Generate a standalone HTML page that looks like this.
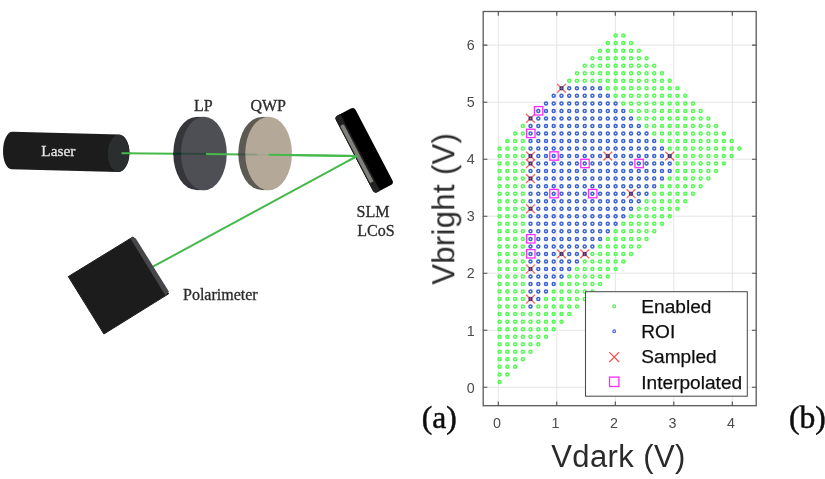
<!DOCTYPE html><html><head><meta charset="utf-8"><title>Figure</title>
<style>html,body{margin:0;padding:0;background:#fff}body{width:825px;height:479px;overflow:hidden;position:relative}svg{position:absolute;left:0;top:0;display:block}text{font-family:"Liberation Sans",sans-serif}.s text{font-family:"Liberation Serif",serif}</style></head><body>
<svg width="825" height="479" viewBox="0 0 825 479">
<defs><filter id="b" x="-5%" y="-5%" width="110%" height="110%"><feGaussianBlur stdDeviation="0.55"/></filter><filter id="b2" x="-5%" y="-5%" width="110%" height="110%"><feGaussianBlur stdDeviation="0.4"/></filter></defs>
<rect width="825" height="479" fill="#fff"/>
<g filter="url(#b)">
<line x1="121.5" y1="153.2" x2="206" y2="153.9" stroke="#46b84c" stroke-width="2.05"/>
<ellipse cx="196.3" cy="153.5" rx="23" ry="36.6" fill="#34363a"/>
<rect x="196.3" y="116.9" width="7.6" height="73.2" fill="#34363a"/>
<ellipse cx="203.9" cy="153.5" rx="22.9" ry="36.7" fill="#4d4f54"/>
<line x1="173" y1="153.7" x2="181.5" y2="153.8" stroke="#0f3326" stroke-width="2"/>
<line x1="181.5" y1="153.8" x2="206" y2="154" stroke="#33463e" stroke-width="1.9"/>
<line x1="206" y1="153.9" x2="357" y2="156.1" stroke="#46b84c" stroke-width="2.05"/>
<ellipse cx="261.7" cy="153.5" rx="23.4" ry="36.6" fill="#5c5a52"/>
<rect x="261.7" y="116.9" width="7" height="73.2" fill="#5c5a52"/>
<ellipse cx="268.6" cy="153.5" rx="23.4" ry="36.7" fill="#b4a898"/>
<line x1="238.3" y1="154.4" x2="245.5" y2="154.5" stroke="#474d42" stroke-width="2"/>
<line x1="245.5" y1="154.5" x2="257" y2="154.65" stroke="#8c9880" stroke-width="1.8"/>
<line x1="257" y1="154.65" x2="268.6" y2="154.8" stroke="#a4a592" stroke-width="1.6"/>
<line x1="268.6" y1="154.8" x2="357" y2="156.1" stroke="#46b84c" stroke-width="2.05"/>
<line x1="357" y1="156.1" x2="152.5" y2="266.8" stroke="#46b84c" stroke-width="2.05"/>
<g transform="rotate(1.5 66 152)">
<path d="M12,133.2 L118.5,133.2 A11,18.7 0 0 1 118.5,170.6 L12,170.6 A9,18.7 0 0 1 12,133.2 Z" fill="#1a1b1d"/>
<ellipse cx="118.5" cy="151.9" rx="10.8" ry="18.5" fill="#292d2f"/>
</g>
<line x1="121.5" y1="153.2" x2="131" y2="153.3" stroke="#46b84c" stroke-width="2.05"/>
<g transform="translate(364.2 150.3) rotate(-27.6)">
<rect x="-11.1" y="-43.2" width="22.2" height="86.4" rx="3.6" fill="#050505"/>
<path d="M-7.5,-43.2 h3 v86.4 h-3 a3.6,3.6 0 0 1 -3.6,-3.6 v-79.2 a3.6,3.6 0 0 1 3.6,-3.6z" fill="#202021"/>
<rect x="-10" y="-32.7" width="3.9" height="64.6" rx="0.8" fill="#80807a"/>
</g>
<line x1="349" y1="156" x2="357" y2="156.1" stroke="#46b84c" stroke-width="2.05"/>
<line x1="349" y1="160.4" x2="357" y2="156.1" stroke="#46b84c" stroke-width="2.05"/>
<polygon points="68.3,276.6 133,236.9 168.6,293.8 103.9,334" fill="#1b1b1c" stroke="#1b1b1c" stroke-width="1" stroke-linejoin="round"/>
<polygon points="133,236.9 135.8,238.6 168.9,291.6 165.6,295.8 130.4,238.6" fill="#45464a"/>
</g>
<g class="s" fill="#2b2b2b" stroke="#2b2b2b" stroke-width="0.3" font-size="16" filter="url(#b)">
<text x="41.3" y="156.4" fill="#e4e4e4" stroke="#e4e4e4" font-size="15.3">Laser</text>
<text x="194" y="111.3">LP</text>
<text x="250.4" y="111.3">QWP</text>
<text x="356.6" y="217.1">SLM</text>
<text x="357.2" y="236.2">LCoS</text>
<text x="183" y="299.8">Polarimeter</text>
</g>
<g filter="url(#b2)">
<line x1="498.3" y1="11.5" x2="498.3" y2="405.7" stroke="#e4e4e4" stroke-width="1"/>
<line x1="556.8" y1="11.5" x2="556.8" y2="405.7" stroke="#e4e4e4" stroke-width="1"/>
<line x1="615.3" y1="11.5" x2="615.3" y2="405.7" stroke="#e4e4e4" stroke-width="1"/>
<line x1="673.8" y1="11.5" x2="673.8" y2="405.7" stroke="#e4e4e4" stroke-width="1"/>
<line x1="732.3" y1="11.5" x2="732.3" y2="405.7" stroke="#e4e4e4" stroke-width="1"/>
<line x1="483.2" y1="387.3" x2="756.2" y2="387.3" stroke="#e4e4e4" stroke-width="1"/>
<line x1="483.2" y1="330.3" x2="756.2" y2="330.3" stroke="#e4e4e4" stroke-width="1"/>
<line x1="483.2" y1="273.2" x2="756.2" y2="273.2" stroke="#e4e4e4" stroke-width="1"/>
<line x1="483.2" y1="216.2" x2="756.2" y2="216.2" stroke="#e4e4e4" stroke-width="1"/>
<line x1="483.2" y1="159.2" x2="756.2" y2="159.2" stroke="#e4e4e4" stroke-width="1"/>
<line x1="483.2" y1="102.2" x2="756.2" y2="102.2" stroke="#e4e4e4" stroke-width="1"/>
<line x1="483.2" y1="45.1" x2="756.2" y2="45.1" stroke="#e4e4e4" stroke-width="1"/>
<g fill="none" stroke="#52fb52" stroke-width="1.5"><circle cx="499.6" cy="381.9" r="1.52"/><circle cx="499.6" cy="374.4" r="1.52"/><circle cx="507.3" cy="374.4" r="1.52"/><circle cx="499.6" cy="366.8" r="1.52"/><circle cx="507.3" cy="366.8" r="1.52"/><circle cx="515.1" cy="366.8" r="1.52"/><circle cx="499.6" cy="359.3" r="1.52"/><circle cx="507.3" cy="359.3" r="1.52"/><circle cx="515.1" cy="359.3" r="1.52"/><circle cx="522.8" cy="359.3" r="1.52"/><circle cx="499.6" cy="351.8" r="1.52"/><circle cx="507.3" cy="351.8" r="1.52"/><circle cx="515.1" cy="351.8" r="1.52"/><circle cx="522.8" cy="351.8" r="1.52"/><circle cx="530.5" cy="351.8" r="1.52"/><circle cx="499.6" cy="344.3" r="1.52"/><circle cx="507.3" cy="344.3" r="1.52"/><circle cx="515.1" cy="344.3" r="1.52"/><circle cx="522.8" cy="344.3" r="1.52"/><circle cx="530.5" cy="344.3" r="1.52"/><circle cx="538.3" cy="344.3" r="1.52"/><circle cx="499.6" cy="336.7" r="1.52"/><circle cx="507.3" cy="336.7" r="1.52"/><circle cx="515.1" cy="336.7" r="1.52"/><circle cx="522.8" cy="336.7" r="1.52"/><circle cx="530.5" cy="336.7" r="1.52"/><circle cx="538.3" cy="336.7" r="1.52"/><circle cx="546.0" cy="336.7" r="1.52"/><circle cx="499.6" cy="329.2" r="1.52"/><circle cx="507.3" cy="329.2" r="1.52"/><circle cx="515.1" cy="329.2" r="1.52"/><circle cx="522.8" cy="329.2" r="1.52"/><circle cx="530.5" cy="329.2" r="1.52"/><circle cx="538.3" cy="329.2" r="1.52"/><circle cx="546.0" cy="329.2" r="1.52"/><circle cx="553.7" cy="329.2" r="1.52"/><circle cx="499.6" cy="321.7" r="1.52"/><circle cx="507.3" cy="321.7" r="1.52"/><circle cx="515.1" cy="321.7" r="1.52"/><circle cx="522.8" cy="321.7" r="1.52"/><circle cx="530.5" cy="321.7" r="1.52"/><circle cx="538.3" cy="321.7" r="1.52"/><circle cx="546.0" cy="321.7" r="1.52"/><circle cx="553.7" cy="321.7" r="1.52"/><circle cx="561.5" cy="321.7" r="1.52"/><circle cx="499.6" cy="314.1" r="1.52"/><circle cx="507.3" cy="314.1" r="1.52"/><circle cx="515.1" cy="314.1" r="1.52"/><circle cx="522.8" cy="314.1" r="1.52"/><circle cx="530.5" cy="314.1" r="1.52"/><circle cx="538.3" cy="314.1" r="1.52"/><circle cx="546.0" cy="314.1" r="1.52"/><circle cx="553.7" cy="314.1" r="1.52"/><circle cx="561.5" cy="314.1" r="1.52"/><circle cx="569.2" cy="314.1" r="1.52"/><circle cx="499.6" cy="306.6" r="1.52"/><circle cx="507.3" cy="306.6" r="1.52"/><circle cx="515.1" cy="306.6" r="1.52"/><circle cx="522.8" cy="306.6" r="1.52"/><circle cx="538.3" cy="306.6" r="1.52"/><circle cx="546.0" cy="306.6" r="1.52"/><circle cx="553.7" cy="306.6" r="1.52"/><circle cx="561.5" cy="306.6" r="1.52"/><circle cx="569.2" cy="306.6" r="1.52"/><circle cx="576.9" cy="306.6" r="1.52"/><circle cx="499.6" cy="299.1" r="1.52"/><circle cx="507.3" cy="299.1" r="1.52"/><circle cx="515.1" cy="299.1" r="1.52"/><circle cx="522.8" cy="299.1" r="1.52"/><circle cx="546.0" cy="299.1" r="1.52"/><circle cx="553.7" cy="299.1" r="1.52"/><circle cx="561.5" cy="299.1" r="1.52"/><circle cx="569.2" cy="299.1" r="1.52"/><circle cx="576.9" cy="299.1" r="1.52"/><circle cx="584.7" cy="299.1" r="1.52"/><circle cx="499.6" cy="291.6" r="1.52"/><circle cx="507.3" cy="291.6" r="1.52"/><circle cx="515.1" cy="291.6" r="1.52"/><circle cx="522.8" cy="291.6" r="1.52"/><circle cx="553.7" cy="291.6" r="1.52"/><circle cx="561.5" cy="291.6" r="1.52"/><circle cx="569.2" cy="291.6" r="1.52"/><circle cx="576.9" cy="291.6" r="1.52"/><circle cx="584.7" cy="291.6" r="1.52"/><circle cx="592.4" cy="291.6" r="1.52"/><circle cx="499.6" cy="284.0" r="1.52"/><circle cx="507.3" cy="284.0" r="1.52"/><circle cx="515.1" cy="284.0" r="1.52"/><circle cx="522.8" cy="284.0" r="1.52"/><circle cx="561.5" cy="284.0" r="1.52"/><circle cx="569.2" cy="284.0" r="1.52"/><circle cx="576.9" cy="284.0" r="1.52"/><circle cx="584.7" cy="284.0" r="1.52"/><circle cx="592.4" cy="284.0" r="1.52"/><circle cx="600.1" cy="284.0" r="1.52"/><circle cx="499.6" cy="276.5" r="1.52"/><circle cx="507.3" cy="276.5" r="1.52"/><circle cx="515.1" cy="276.5" r="1.52"/><circle cx="522.8" cy="276.5" r="1.52"/><circle cx="569.2" cy="276.5" r="1.52"/><circle cx="576.9" cy="276.5" r="1.52"/><circle cx="584.7" cy="276.5" r="1.52"/><circle cx="592.4" cy="276.5" r="1.52"/><circle cx="600.1" cy="276.5" r="1.52"/><circle cx="607.8" cy="276.5" r="1.52"/><circle cx="499.6" cy="269.0" r="1.52"/><circle cx="507.3" cy="269.0" r="1.52"/><circle cx="515.1" cy="269.0" r="1.52"/><circle cx="522.8" cy="269.0" r="1.52"/><circle cx="576.9" cy="269.0" r="1.52"/><circle cx="584.7" cy="269.0" r="1.52"/><circle cx="592.4" cy="269.0" r="1.52"/><circle cx="600.1" cy="269.0" r="1.52"/><circle cx="607.8" cy="269.0" r="1.52"/><circle cx="615.6" cy="269.0" r="1.52"/><circle cx="499.6" cy="261.5" r="1.52"/><circle cx="507.3" cy="261.5" r="1.52"/><circle cx="515.1" cy="261.5" r="1.52"/><circle cx="522.8" cy="261.5" r="1.52"/><circle cx="584.7" cy="261.5" r="1.52"/><circle cx="592.4" cy="261.5" r="1.52"/><circle cx="600.1" cy="261.5" r="1.52"/><circle cx="607.8" cy="261.5" r="1.52"/><circle cx="615.6" cy="261.5" r="1.52"/><circle cx="623.3" cy="261.5" r="1.52"/><circle cx="499.6" cy="253.9" r="1.52"/><circle cx="507.3" cy="253.9" r="1.52"/><circle cx="515.1" cy="253.9" r="1.52"/><circle cx="522.8" cy="253.9" r="1.52"/><circle cx="592.4" cy="253.9" r="1.52"/><circle cx="600.1" cy="253.9" r="1.52"/><circle cx="607.8" cy="253.9" r="1.52"/><circle cx="615.6" cy="253.9" r="1.52"/><circle cx="623.3" cy="253.9" r="1.52"/><circle cx="631.0" cy="253.9" r="1.52"/><circle cx="499.6" cy="246.4" r="1.52"/><circle cx="507.3" cy="246.4" r="1.52"/><circle cx="515.1" cy="246.4" r="1.52"/><circle cx="522.8" cy="246.4" r="1.52"/><circle cx="600.1" cy="246.4" r="1.52"/><circle cx="607.8" cy="246.4" r="1.52"/><circle cx="615.6" cy="246.4" r="1.52"/><circle cx="623.3" cy="246.4" r="1.52"/><circle cx="631.0" cy="246.4" r="1.52"/><circle cx="638.8" cy="246.4" r="1.52"/><circle cx="499.6" cy="238.9" r="1.52"/><circle cx="507.3" cy="238.9" r="1.52"/><circle cx="515.1" cy="238.9" r="1.52"/><circle cx="522.8" cy="238.9" r="1.52"/><circle cx="607.8" cy="238.9" r="1.52"/><circle cx="615.6" cy="238.9" r="1.52"/><circle cx="623.3" cy="238.9" r="1.52"/><circle cx="631.0" cy="238.9" r="1.52"/><circle cx="638.8" cy="238.9" r="1.52"/><circle cx="646.5" cy="238.9" r="1.52"/><circle cx="499.6" cy="231.3" r="1.52"/><circle cx="507.3" cy="231.3" r="1.52"/><circle cx="515.1" cy="231.3" r="1.52"/><circle cx="522.8" cy="231.3" r="1.52"/><circle cx="615.6" cy="231.3" r="1.52"/><circle cx="623.3" cy="231.3" r="1.52"/><circle cx="631.0" cy="231.3" r="1.52"/><circle cx="638.8" cy="231.3" r="1.52"/><circle cx="646.5" cy="231.3" r="1.52"/><circle cx="654.2" cy="231.3" r="1.52"/><circle cx="499.6" cy="223.8" r="1.52"/><circle cx="507.3" cy="223.8" r="1.52"/><circle cx="515.1" cy="223.8" r="1.52"/><circle cx="522.8" cy="223.8" r="1.52"/><circle cx="623.3" cy="223.8" r="1.52"/><circle cx="631.0" cy="223.8" r="1.52"/><circle cx="638.8" cy="223.8" r="1.52"/><circle cx="646.5" cy="223.8" r="1.52"/><circle cx="654.2" cy="223.8" r="1.52"/><circle cx="662.0" cy="223.8" r="1.52"/><circle cx="499.6" cy="216.3" r="1.52"/><circle cx="507.3" cy="216.3" r="1.52"/><circle cx="515.1" cy="216.3" r="1.52"/><circle cx="522.8" cy="216.3" r="1.52"/><circle cx="631.0" cy="216.3" r="1.52"/><circle cx="638.8" cy="216.3" r="1.52"/><circle cx="646.5" cy="216.3" r="1.52"/><circle cx="654.2" cy="216.3" r="1.52"/><circle cx="662.0" cy="216.3" r="1.52"/><circle cx="669.7" cy="216.3" r="1.52"/><circle cx="499.6" cy="208.8" r="1.52"/><circle cx="507.3" cy="208.8" r="1.52"/><circle cx="515.1" cy="208.8" r="1.52"/><circle cx="522.8" cy="208.8" r="1.52"/><circle cx="638.8" cy="208.8" r="1.52"/><circle cx="646.5" cy="208.8" r="1.52"/><circle cx="654.2" cy="208.8" r="1.52"/><circle cx="662.0" cy="208.8" r="1.52"/><circle cx="669.7" cy="208.8" r="1.52"/><circle cx="677.4" cy="208.8" r="1.52"/><circle cx="499.6" cy="201.2" r="1.52"/><circle cx="507.3" cy="201.2" r="1.52"/><circle cx="515.1" cy="201.2" r="1.52"/><circle cx="522.8" cy="201.2" r="1.52"/><circle cx="646.5" cy="201.2" r="1.52"/><circle cx="654.2" cy="201.2" r="1.52"/><circle cx="662.0" cy="201.2" r="1.52"/><circle cx="669.7" cy="201.2" r="1.52"/><circle cx="677.4" cy="201.2" r="1.52"/><circle cx="685.2" cy="201.2" r="1.52"/><circle cx="499.6" cy="193.7" r="1.52"/><circle cx="507.3" cy="193.7" r="1.52"/><circle cx="515.1" cy="193.7" r="1.52"/><circle cx="522.8" cy="193.7" r="1.52"/><circle cx="654.2" cy="193.7" r="1.52"/><circle cx="662.0" cy="193.7" r="1.52"/><circle cx="669.7" cy="193.7" r="1.52"/><circle cx="677.4" cy="193.7" r="1.52"/><circle cx="685.2" cy="193.7" r="1.52"/><circle cx="692.9" cy="193.7" r="1.52"/><circle cx="499.6" cy="186.2" r="1.52"/><circle cx="507.3" cy="186.2" r="1.52"/><circle cx="515.1" cy="186.2" r="1.52"/><circle cx="522.8" cy="186.2" r="1.52"/><circle cx="662.0" cy="186.2" r="1.52"/><circle cx="669.7" cy="186.2" r="1.52"/><circle cx="677.4" cy="186.2" r="1.52"/><circle cx="685.2" cy="186.2" r="1.52"/><circle cx="692.9" cy="186.2" r="1.52"/><circle cx="700.6" cy="186.2" r="1.52"/><circle cx="499.6" cy="178.6" r="1.52"/><circle cx="507.3" cy="178.6" r="1.52"/><circle cx="515.1" cy="178.6" r="1.52"/><circle cx="522.8" cy="178.6" r="1.52"/><circle cx="669.7" cy="178.6" r="1.52"/><circle cx="677.4" cy="178.6" r="1.52"/><circle cx="685.2" cy="178.6" r="1.52"/><circle cx="692.9" cy="178.6" r="1.52"/><circle cx="700.6" cy="178.6" r="1.52"/><circle cx="708.4" cy="178.6" r="1.52"/><circle cx="499.6" cy="171.1" r="1.52"/><circle cx="507.3" cy="171.1" r="1.52"/><circle cx="515.1" cy="171.1" r="1.52"/><circle cx="522.8" cy="171.1" r="1.52"/><circle cx="677.4" cy="171.1" r="1.52"/><circle cx="685.2" cy="171.1" r="1.52"/><circle cx="692.9" cy="171.1" r="1.52"/><circle cx="700.6" cy="171.1" r="1.52"/><circle cx="708.4" cy="171.1" r="1.52"/><circle cx="716.1" cy="171.1" r="1.52"/><circle cx="499.6" cy="163.6" r="1.52"/><circle cx="507.3" cy="163.6" r="1.52"/><circle cx="515.1" cy="163.6" r="1.52"/><circle cx="522.8" cy="163.6" r="1.52"/><circle cx="677.4" cy="163.6" r="1.52"/><circle cx="685.2" cy="163.6" r="1.52"/><circle cx="692.9" cy="163.6" r="1.52"/><circle cx="700.6" cy="163.6" r="1.52"/><circle cx="708.4" cy="163.6" r="1.52"/><circle cx="716.1" cy="163.6" r="1.52"/><circle cx="723.8" cy="163.6" r="1.52"/><circle cx="499.6" cy="156.1" r="1.52"/><circle cx="507.3" cy="156.1" r="1.52"/><circle cx="515.1" cy="156.1" r="1.52"/><circle cx="522.8" cy="156.1" r="1.52"/><circle cx="677.4" cy="156.1" r="1.52"/><circle cx="685.2" cy="156.1" r="1.52"/><circle cx="692.9" cy="156.1" r="1.52"/><circle cx="700.6" cy="156.1" r="1.52"/><circle cx="708.4" cy="156.1" r="1.52"/><circle cx="716.1" cy="156.1" r="1.52"/><circle cx="723.8" cy="156.1" r="1.52"/><circle cx="731.6" cy="156.1" r="1.52"/><circle cx="499.6" cy="148.5" r="1.52"/><circle cx="507.3" cy="148.5" r="1.52"/><circle cx="515.1" cy="148.5" r="1.52"/><circle cx="522.8" cy="148.5" r="1.52"/><circle cx="669.7" cy="148.5" r="1.52"/><circle cx="677.4" cy="148.5" r="1.52"/><circle cx="685.2" cy="148.5" r="1.52"/><circle cx="692.9" cy="148.5" r="1.52"/><circle cx="700.6" cy="148.5" r="1.52"/><circle cx="708.4" cy="148.5" r="1.52"/><circle cx="716.1" cy="148.5" r="1.52"/><circle cx="723.8" cy="148.5" r="1.52"/><circle cx="731.6" cy="148.5" r="1.52"/><circle cx="739.3" cy="148.5" r="1.52"/><circle cx="507.3" cy="141.0" r="1.52"/><circle cx="515.1" cy="141.0" r="1.52"/><circle cx="522.8" cy="141.0" r="1.52"/><circle cx="662.0" cy="141.0" r="1.52"/><circle cx="669.7" cy="141.0" r="1.52"/><circle cx="677.4" cy="141.0" r="1.52"/><circle cx="685.2" cy="141.0" r="1.52"/><circle cx="692.9" cy="141.0" r="1.52"/><circle cx="700.6" cy="141.0" r="1.52"/><circle cx="708.4" cy="141.0" r="1.52"/><circle cx="716.1" cy="141.0" r="1.52"/><circle cx="723.8" cy="141.0" r="1.52"/><circle cx="731.6" cy="141.0" r="1.52"/><circle cx="515.1" cy="133.5" r="1.52"/><circle cx="522.8" cy="133.5" r="1.52"/><circle cx="654.2" cy="133.5" r="1.52"/><circle cx="662.0" cy="133.5" r="1.52"/><circle cx="669.7" cy="133.5" r="1.52"/><circle cx="677.4" cy="133.5" r="1.52"/><circle cx="685.2" cy="133.5" r="1.52"/><circle cx="692.9" cy="133.5" r="1.52"/><circle cx="700.6" cy="133.5" r="1.52"/><circle cx="708.4" cy="133.5" r="1.52"/><circle cx="716.1" cy="133.5" r="1.52"/><circle cx="723.8" cy="133.5" r="1.52"/><circle cx="522.8" cy="125.9" r="1.52"/><circle cx="646.5" cy="125.9" r="1.52"/><circle cx="654.2" cy="125.9" r="1.52"/><circle cx="662.0" cy="125.9" r="1.52"/><circle cx="669.7" cy="125.9" r="1.52"/><circle cx="677.4" cy="125.9" r="1.52"/><circle cx="685.2" cy="125.9" r="1.52"/><circle cx="692.9" cy="125.9" r="1.52"/><circle cx="700.6" cy="125.9" r="1.52"/><circle cx="708.4" cy="125.9" r="1.52"/><circle cx="716.1" cy="125.9" r="1.52"/><circle cx="638.8" cy="118.4" r="1.52"/><circle cx="646.5" cy="118.4" r="1.52"/><circle cx="654.2" cy="118.4" r="1.52"/><circle cx="662.0" cy="118.4" r="1.52"/><circle cx="669.7" cy="118.4" r="1.52"/><circle cx="677.4" cy="118.4" r="1.52"/><circle cx="685.2" cy="118.4" r="1.52"/><circle cx="692.9" cy="118.4" r="1.52"/><circle cx="700.6" cy="118.4" r="1.52"/><circle cx="708.4" cy="118.4" r="1.52"/><circle cx="631.0" cy="110.9" r="1.52"/><circle cx="638.8" cy="110.9" r="1.52"/><circle cx="646.5" cy="110.9" r="1.52"/><circle cx="654.2" cy="110.9" r="1.52"/><circle cx="662.0" cy="110.9" r="1.52"/><circle cx="669.7" cy="110.9" r="1.52"/><circle cx="677.4" cy="110.9" r="1.52"/><circle cx="685.2" cy="110.9" r="1.52"/><circle cx="692.9" cy="110.9" r="1.52"/><circle cx="700.6" cy="110.9" r="1.52"/><circle cx="623.3" cy="103.4" r="1.52"/><circle cx="631.0" cy="103.4" r="1.52"/><circle cx="638.8" cy="103.4" r="1.52"/><circle cx="646.5" cy="103.4" r="1.52"/><circle cx="654.2" cy="103.4" r="1.52"/><circle cx="662.0" cy="103.4" r="1.52"/><circle cx="669.7" cy="103.4" r="1.52"/><circle cx="677.4" cy="103.4" r="1.52"/><circle cx="685.2" cy="103.4" r="1.52"/><circle cx="692.9" cy="103.4" r="1.52"/><circle cx="615.6" cy="95.8" r="1.52"/><circle cx="623.3" cy="95.8" r="1.52"/><circle cx="631.0" cy="95.8" r="1.52"/><circle cx="638.8" cy="95.8" r="1.52"/><circle cx="646.5" cy="95.8" r="1.52"/><circle cx="654.2" cy="95.8" r="1.52"/><circle cx="662.0" cy="95.8" r="1.52"/><circle cx="669.7" cy="95.8" r="1.52"/><circle cx="677.4" cy="95.8" r="1.52"/><circle cx="685.2" cy="95.8" r="1.52"/><circle cx="607.8" cy="88.3" r="1.52"/><circle cx="615.6" cy="88.3" r="1.52"/><circle cx="623.3" cy="88.3" r="1.52"/><circle cx="631.0" cy="88.3" r="1.52"/><circle cx="638.8" cy="88.3" r="1.52"/><circle cx="646.5" cy="88.3" r="1.52"/><circle cx="654.2" cy="88.3" r="1.52"/><circle cx="662.0" cy="88.3" r="1.52"/><circle cx="669.7" cy="88.3" r="1.52"/><circle cx="677.4" cy="88.3" r="1.52"/><circle cx="569.2" cy="80.8" r="1.52"/><circle cx="576.9" cy="80.8" r="1.52"/><circle cx="584.7" cy="80.8" r="1.52"/><circle cx="592.4" cy="80.8" r="1.52"/><circle cx="600.1" cy="80.8" r="1.52"/><circle cx="607.8" cy="80.8" r="1.52"/><circle cx="615.6" cy="80.8" r="1.52"/><circle cx="623.3" cy="80.8" r="1.52"/><circle cx="631.0" cy="80.8" r="1.52"/><circle cx="638.8" cy="80.8" r="1.52"/><circle cx="646.5" cy="80.8" r="1.52"/><circle cx="654.2" cy="80.8" r="1.52"/><circle cx="662.0" cy="80.8" r="1.52"/><circle cx="669.7" cy="80.8" r="1.52"/><circle cx="576.9" cy="73.3" r="1.52"/><circle cx="584.7" cy="73.3" r="1.52"/><circle cx="592.4" cy="73.3" r="1.52"/><circle cx="600.1" cy="73.3" r="1.52"/><circle cx="607.8" cy="73.3" r="1.52"/><circle cx="615.6" cy="73.3" r="1.52"/><circle cx="623.3" cy="73.3" r="1.52"/><circle cx="631.0" cy="73.3" r="1.52"/><circle cx="638.8" cy="73.3" r="1.52"/><circle cx="646.5" cy="73.3" r="1.52"/><circle cx="654.2" cy="73.3" r="1.52"/><circle cx="662.0" cy="73.3" r="1.52"/><circle cx="584.7" cy="65.7" r="1.52"/><circle cx="592.4" cy="65.7" r="1.52"/><circle cx="600.1" cy="65.7" r="1.52"/><circle cx="607.8" cy="65.7" r="1.52"/><circle cx="615.6" cy="65.7" r="1.52"/><circle cx="623.3" cy="65.7" r="1.52"/><circle cx="631.0" cy="65.7" r="1.52"/><circle cx="638.8" cy="65.7" r="1.52"/><circle cx="646.5" cy="65.7" r="1.52"/><circle cx="654.2" cy="65.7" r="1.52"/><circle cx="592.4" cy="58.2" r="1.52"/><circle cx="600.1" cy="58.2" r="1.52"/><circle cx="607.8" cy="58.2" r="1.52"/><circle cx="615.6" cy="58.2" r="1.52"/><circle cx="623.3" cy="58.2" r="1.52"/><circle cx="631.0" cy="58.2" r="1.52"/><circle cx="638.8" cy="58.2" r="1.52"/><circle cx="646.5" cy="58.2" r="1.52"/><circle cx="600.1" cy="50.7" r="1.52"/><circle cx="607.8" cy="50.7" r="1.52"/><circle cx="615.6" cy="50.7" r="1.52"/><circle cx="623.3" cy="50.7" r="1.52"/><circle cx="631.0" cy="50.7" r="1.52"/><circle cx="638.8" cy="50.7" r="1.52"/><circle cx="607.8" cy="43.1" r="1.52"/><circle cx="615.6" cy="43.1" r="1.52"/><circle cx="623.3" cy="43.1" r="1.52"/><circle cx="631.0" cy="43.1" r="1.52"/><circle cx="615.6" cy="35.6" r="1.52"/><circle cx="623.3" cy="35.6" r="1.52"/></g>
<g fill="none" stroke="#3a62d0" stroke-width="1.5"><circle cx="530.5" cy="306.6" r="1.52"/><circle cx="530.5" cy="299.1" r="1.52"/><circle cx="538.3" cy="299.1" r="1.52"/><circle cx="530.5" cy="291.6" r="1.52"/><circle cx="538.3" cy="291.6" r="1.52"/><circle cx="546.0" cy="291.6" r="1.52"/><circle cx="530.5" cy="284.0" r="1.52"/><circle cx="538.3" cy="284.0" r="1.52"/><circle cx="546.0" cy="284.0" r="1.52"/><circle cx="553.7" cy="284.0" r="1.52"/><circle cx="530.5" cy="276.5" r="1.52"/><circle cx="538.3" cy="276.5" r="1.52"/><circle cx="546.0" cy="276.5" r="1.52"/><circle cx="553.7" cy="276.5" r="1.52"/><circle cx="561.5" cy="276.5" r="1.52"/><circle cx="530.5" cy="269.0" r="1.52"/><circle cx="538.3" cy="269.0" r="1.52"/><circle cx="546.0" cy="269.0" r="1.52"/><circle cx="553.7" cy="269.0" r="1.52"/><circle cx="561.5" cy="269.0" r="1.52"/><circle cx="569.2" cy="269.0" r="1.52"/><circle cx="530.5" cy="261.5" r="1.52"/><circle cx="538.3" cy="261.5" r="1.52"/><circle cx="546.0" cy="261.5" r="1.52"/><circle cx="553.7" cy="261.5" r="1.52"/><circle cx="561.5" cy="261.5" r="1.52"/><circle cx="569.2" cy="261.5" r="1.52"/><circle cx="576.9" cy="261.5" r="1.52"/><circle cx="530.5" cy="253.9" r="1.52"/><circle cx="538.3" cy="253.9" r="1.52"/><circle cx="546.0" cy="253.9" r="1.52"/><circle cx="553.7" cy="253.9" r="1.52"/><circle cx="561.5" cy="253.9" r="1.52"/><circle cx="569.2" cy="253.9" r="1.52"/><circle cx="576.9" cy="253.9" r="1.52"/><circle cx="584.7" cy="253.9" r="1.52"/><circle cx="530.5" cy="246.4" r="1.52"/><circle cx="538.3" cy="246.4" r="1.52"/><circle cx="546.0" cy="246.4" r="1.52"/><circle cx="553.7" cy="246.4" r="1.52"/><circle cx="561.5" cy="246.4" r="1.52"/><circle cx="569.2" cy="246.4" r="1.52"/><circle cx="576.9" cy="246.4" r="1.52"/><circle cx="584.7" cy="246.4" r="1.52"/><circle cx="592.4" cy="246.4" r="1.52"/><circle cx="530.5" cy="238.9" r="1.52"/><circle cx="538.3" cy="238.9" r="1.52"/><circle cx="546.0" cy="238.9" r="1.52"/><circle cx="553.7" cy="238.9" r="1.52"/><circle cx="561.5" cy="238.9" r="1.52"/><circle cx="569.2" cy="238.9" r="1.52"/><circle cx="576.9" cy="238.9" r="1.52"/><circle cx="584.7" cy="238.9" r="1.52"/><circle cx="592.4" cy="238.9" r="1.52"/><circle cx="600.1" cy="238.9" r="1.52"/><circle cx="530.5" cy="231.3" r="1.52"/><circle cx="538.3" cy="231.3" r="1.52"/><circle cx="546.0" cy="231.3" r="1.52"/><circle cx="553.7" cy="231.3" r="1.52"/><circle cx="561.5" cy="231.3" r="1.52"/><circle cx="569.2" cy="231.3" r="1.52"/><circle cx="576.9" cy="231.3" r="1.52"/><circle cx="584.7" cy="231.3" r="1.52"/><circle cx="592.4" cy="231.3" r="1.52"/><circle cx="600.1" cy="231.3" r="1.52"/><circle cx="607.8" cy="231.3" r="1.52"/><circle cx="530.5" cy="223.8" r="1.52"/><circle cx="538.3" cy="223.8" r="1.52"/><circle cx="546.0" cy="223.8" r="1.52"/><circle cx="553.7" cy="223.8" r="1.52"/><circle cx="561.5" cy="223.8" r="1.52"/><circle cx="569.2" cy="223.8" r="1.52"/><circle cx="576.9" cy="223.8" r="1.52"/><circle cx="584.7" cy="223.8" r="1.52"/><circle cx="592.4" cy="223.8" r="1.52"/><circle cx="600.1" cy="223.8" r="1.52"/><circle cx="607.8" cy="223.8" r="1.52"/><circle cx="615.6" cy="223.8" r="1.52"/><circle cx="530.5" cy="216.3" r="1.52"/><circle cx="538.3" cy="216.3" r="1.52"/><circle cx="546.0" cy="216.3" r="1.52"/><circle cx="553.7" cy="216.3" r="1.52"/><circle cx="561.5" cy="216.3" r="1.52"/><circle cx="569.2" cy="216.3" r="1.52"/><circle cx="576.9" cy="216.3" r="1.52"/><circle cx="584.7" cy="216.3" r="1.52"/><circle cx="592.4" cy="216.3" r="1.52"/><circle cx="600.1" cy="216.3" r="1.52"/><circle cx="607.8" cy="216.3" r="1.52"/><circle cx="615.6" cy="216.3" r="1.52"/><circle cx="623.3" cy="216.3" r="1.52"/><circle cx="530.5" cy="208.8" r="1.52"/><circle cx="538.3" cy="208.8" r="1.52"/><circle cx="546.0" cy="208.8" r="1.52"/><circle cx="553.7" cy="208.8" r="1.52"/><circle cx="561.5" cy="208.8" r="1.52"/><circle cx="569.2" cy="208.8" r="1.52"/><circle cx="576.9" cy="208.8" r="1.52"/><circle cx="584.7" cy="208.8" r="1.52"/><circle cx="592.4" cy="208.8" r="1.52"/><circle cx="600.1" cy="208.8" r="1.52"/><circle cx="607.8" cy="208.8" r="1.52"/><circle cx="615.6" cy="208.8" r="1.52"/><circle cx="623.3" cy="208.8" r="1.52"/><circle cx="631.0" cy="208.8" r="1.52"/><circle cx="530.5" cy="201.2" r="1.52"/><circle cx="538.3" cy="201.2" r="1.52"/><circle cx="546.0" cy="201.2" r="1.52"/><circle cx="553.7" cy="201.2" r="1.52"/><circle cx="561.5" cy="201.2" r="1.52"/><circle cx="569.2" cy="201.2" r="1.52"/><circle cx="576.9" cy="201.2" r="1.52"/><circle cx="584.7" cy="201.2" r="1.52"/><circle cx="592.4" cy="201.2" r="1.52"/><circle cx="600.1" cy="201.2" r="1.52"/><circle cx="607.8" cy="201.2" r="1.52"/><circle cx="615.6" cy="201.2" r="1.52"/><circle cx="623.3" cy="201.2" r="1.52"/><circle cx="631.0" cy="201.2" r="1.52"/><circle cx="638.8" cy="201.2" r="1.52"/><circle cx="530.5" cy="193.7" r="1.52"/><circle cx="538.3" cy="193.7" r="1.52"/><circle cx="546.0" cy="193.7" r="1.52"/><circle cx="553.7" cy="193.7" r="1.52"/><circle cx="561.5" cy="193.7" r="1.52"/><circle cx="569.2" cy="193.7" r="1.52"/><circle cx="576.9" cy="193.7" r="1.52"/><circle cx="584.7" cy="193.7" r="1.52"/><circle cx="592.4" cy="193.7" r="1.52"/><circle cx="600.1" cy="193.7" r="1.52"/><circle cx="607.8" cy="193.7" r="1.52"/><circle cx="615.6" cy="193.7" r="1.52"/><circle cx="623.3" cy="193.7" r="1.52"/><circle cx="631.0" cy="193.7" r="1.52"/><circle cx="638.8" cy="193.7" r="1.52"/><circle cx="646.5" cy="193.7" r="1.52"/><circle cx="530.5" cy="186.2" r="1.52"/><circle cx="538.3" cy="186.2" r="1.52"/><circle cx="546.0" cy="186.2" r="1.52"/><circle cx="553.7" cy="186.2" r="1.52"/><circle cx="561.5" cy="186.2" r="1.52"/><circle cx="569.2" cy="186.2" r="1.52"/><circle cx="576.9" cy="186.2" r="1.52"/><circle cx="584.7" cy="186.2" r="1.52"/><circle cx="592.4" cy="186.2" r="1.52"/><circle cx="600.1" cy="186.2" r="1.52"/><circle cx="607.8" cy="186.2" r="1.52"/><circle cx="615.6" cy="186.2" r="1.52"/><circle cx="623.3" cy="186.2" r="1.52"/><circle cx="631.0" cy="186.2" r="1.52"/><circle cx="638.8" cy="186.2" r="1.52"/><circle cx="646.5" cy="186.2" r="1.52"/><circle cx="654.2" cy="186.2" r="1.52"/><circle cx="530.5" cy="178.6" r="1.52"/><circle cx="538.3" cy="178.6" r="1.52"/><circle cx="546.0" cy="178.6" r="1.52"/><circle cx="553.7" cy="178.6" r="1.52"/><circle cx="561.5" cy="178.6" r="1.52"/><circle cx="569.2" cy="178.6" r="1.52"/><circle cx="576.9" cy="178.6" r="1.52"/><circle cx="584.7" cy="178.6" r="1.52"/><circle cx="592.4" cy="178.6" r="1.52"/><circle cx="600.1" cy="178.6" r="1.52"/><circle cx="607.8" cy="178.6" r="1.52"/><circle cx="615.6" cy="178.6" r="1.52"/><circle cx="623.3" cy="178.6" r="1.52"/><circle cx="631.0" cy="178.6" r="1.52"/><circle cx="638.8" cy="178.6" r="1.52"/><circle cx="646.5" cy="178.6" r="1.52"/><circle cx="654.2" cy="178.6" r="1.52"/><circle cx="662.0" cy="178.6" r="1.52"/><circle cx="530.5" cy="171.1" r="1.52"/><circle cx="538.3" cy="171.1" r="1.52"/><circle cx="546.0" cy="171.1" r="1.52"/><circle cx="553.7" cy="171.1" r="1.52"/><circle cx="561.5" cy="171.1" r="1.52"/><circle cx="569.2" cy="171.1" r="1.52"/><circle cx="576.9" cy="171.1" r="1.52"/><circle cx="584.7" cy="171.1" r="1.52"/><circle cx="592.4" cy="171.1" r="1.52"/><circle cx="600.1" cy="171.1" r="1.52"/><circle cx="607.8" cy="171.1" r="1.52"/><circle cx="615.6" cy="171.1" r="1.52"/><circle cx="623.3" cy="171.1" r="1.52"/><circle cx="631.0" cy="171.1" r="1.52"/><circle cx="638.8" cy="171.1" r="1.52"/><circle cx="646.5" cy="171.1" r="1.52"/><circle cx="654.2" cy="171.1" r="1.52"/><circle cx="662.0" cy="171.1" r="1.52"/><circle cx="669.7" cy="171.1" r="1.52"/><circle cx="530.5" cy="163.6" r="1.52"/><circle cx="538.3" cy="163.6" r="1.52"/><circle cx="546.0" cy="163.6" r="1.52"/><circle cx="553.7" cy="163.6" r="1.52"/><circle cx="561.5" cy="163.6" r="1.52"/><circle cx="569.2" cy="163.6" r="1.52"/><circle cx="576.9" cy="163.6" r="1.52"/><circle cx="584.7" cy="163.6" r="1.52"/><circle cx="592.4" cy="163.6" r="1.52"/><circle cx="600.1" cy="163.6" r="1.52"/><circle cx="607.8" cy="163.6" r="1.52"/><circle cx="615.6" cy="163.6" r="1.52"/><circle cx="623.3" cy="163.6" r="1.52"/><circle cx="631.0" cy="163.6" r="1.52"/><circle cx="638.8" cy="163.6" r="1.52"/><circle cx="646.5" cy="163.6" r="1.52"/><circle cx="654.2" cy="163.6" r="1.52"/><circle cx="662.0" cy="163.6" r="1.52"/><circle cx="669.7" cy="163.6" r="1.52"/><circle cx="530.5" cy="156.1" r="1.52"/><circle cx="538.3" cy="156.1" r="1.52"/><circle cx="546.0" cy="156.1" r="1.52"/><circle cx="553.7" cy="156.1" r="1.52"/><circle cx="561.5" cy="156.1" r="1.52"/><circle cx="569.2" cy="156.1" r="1.52"/><circle cx="576.9" cy="156.1" r="1.52"/><circle cx="584.7" cy="156.1" r="1.52"/><circle cx="592.4" cy="156.1" r="1.52"/><circle cx="600.1" cy="156.1" r="1.52"/><circle cx="607.8" cy="156.1" r="1.52"/><circle cx="615.6" cy="156.1" r="1.52"/><circle cx="623.3" cy="156.1" r="1.52"/><circle cx="631.0" cy="156.1" r="1.52"/><circle cx="638.8" cy="156.1" r="1.52"/><circle cx="646.5" cy="156.1" r="1.52"/><circle cx="654.2" cy="156.1" r="1.52"/><circle cx="662.0" cy="156.1" r="1.52"/><circle cx="669.7" cy="156.1" r="1.52"/><circle cx="530.5" cy="148.5" r="1.52"/><circle cx="538.3" cy="148.5" r="1.52"/><circle cx="546.0" cy="148.5" r="1.52"/><circle cx="553.7" cy="148.5" r="1.52"/><circle cx="561.5" cy="148.5" r="1.52"/><circle cx="569.2" cy="148.5" r="1.52"/><circle cx="576.9" cy="148.5" r="1.52"/><circle cx="584.7" cy="148.5" r="1.52"/><circle cx="592.4" cy="148.5" r="1.52"/><circle cx="600.1" cy="148.5" r="1.52"/><circle cx="607.8" cy="148.5" r="1.52"/><circle cx="615.6" cy="148.5" r="1.52"/><circle cx="623.3" cy="148.5" r="1.52"/><circle cx="631.0" cy="148.5" r="1.52"/><circle cx="638.8" cy="148.5" r="1.52"/><circle cx="646.5" cy="148.5" r="1.52"/><circle cx="654.2" cy="148.5" r="1.52"/><circle cx="662.0" cy="148.5" r="1.52"/><circle cx="530.5" cy="141.0" r="1.52"/><circle cx="538.3" cy="141.0" r="1.52"/><circle cx="546.0" cy="141.0" r="1.52"/><circle cx="553.7" cy="141.0" r="1.52"/><circle cx="561.5" cy="141.0" r="1.52"/><circle cx="569.2" cy="141.0" r="1.52"/><circle cx="576.9" cy="141.0" r="1.52"/><circle cx="584.7" cy="141.0" r="1.52"/><circle cx="592.4" cy="141.0" r="1.52"/><circle cx="600.1" cy="141.0" r="1.52"/><circle cx="607.8" cy="141.0" r="1.52"/><circle cx="615.6" cy="141.0" r="1.52"/><circle cx="623.3" cy="141.0" r="1.52"/><circle cx="631.0" cy="141.0" r="1.52"/><circle cx="638.8" cy="141.0" r="1.52"/><circle cx="646.5" cy="141.0" r="1.52"/><circle cx="654.2" cy="141.0" r="1.52"/><circle cx="530.5" cy="133.5" r="1.52"/><circle cx="538.3" cy="133.5" r="1.52"/><circle cx="546.0" cy="133.5" r="1.52"/><circle cx="553.7" cy="133.5" r="1.52"/><circle cx="561.5" cy="133.5" r="1.52"/><circle cx="569.2" cy="133.5" r="1.52"/><circle cx="576.9" cy="133.5" r="1.52"/><circle cx="584.7" cy="133.5" r="1.52"/><circle cx="592.4" cy="133.5" r="1.52"/><circle cx="600.1" cy="133.5" r="1.52"/><circle cx="607.8" cy="133.5" r="1.52"/><circle cx="615.6" cy="133.5" r="1.52"/><circle cx="623.3" cy="133.5" r="1.52"/><circle cx="631.0" cy="133.5" r="1.52"/><circle cx="638.8" cy="133.5" r="1.52"/><circle cx="646.5" cy="133.5" r="1.52"/><circle cx="530.5" cy="125.9" r="1.52"/><circle cx="538.3" cy="125.9" r="1.52"/><circle cx="546.0" cy="125.9" r="1.52"/><circle cx="553.7" cy="125.9" r="1.52"/><circle cx="561.5" cy="125.9" r="1.52"/><circle cx="569.2" cy="125.9" r="1.52"/><circle cx="576.9" cy="125.9" r="1.52"/><circle cx="584.7" cy="125.9" r="1.52"/><circle cx="592.4" cy="125.9" r="1.52"/><circle cx="600.1" cy="125.9" r="1.52"/><circle cx="607.8" cy="125.9" r="1.52"/><circle cx="615.6" cy="125.9" r="1.52"/><circle cx="623.3" cy="125.9" r="1.52"/><circle cx="631.0" cy="125.9" r="1.52"/><circle cx="638.8" cy="125.9" r="1.52"/><circle cx="530.5" cy="118.4" r="1.52"/><circle cx="538.3" cy="118.4" r="1.52"/><circle cx="546.0" cy="118.4" r="1.52"/><circle cx="553.7" cy="118.4" r="1.52"/><circle cx="561.5" cy="118.4" r="1.52"/><circle cx="569.2" cy="118.4" r="1.52"/><circle cx="576.9" cy="118.4" r="1.52"/><circle cx="584.7" cy="118.4" r="1.52"/><circle cx="592.4" cy="118.4" r="1.52"/><circle cx="600.1" cy="118.4" r="1.52"/><circle cx="607.8" cy="118.4" r="1.52"/><circle cx="615.6" cy="118.4" r="1.52"/><circle cx="623.3" cy="118.4" r="1.52"/><circle cx="631.0" cy="118.4" r="1.52"/><circle cx="538.3" cy="110.9" r="1.52"/><circle cx="546.0" cy="110.9" r="1.52"/><circle cx="553.7" cy="110.9" r="1.52"/><circle cx="561.5" cy="110.9" r="1.52"/><circle cx="569.2" cy="110.9" r="1.52"/><circle cx="576.9" cy="110.9" r="1.52"/><circle cx="584.7" cy="110.9" r="1.52"/><circle cx="592.4" cy="110.9" r="1.52"/><circle cx="600.1" cy="110.9" r="1.52"/><circle cx="607.8" cy="110.9" r="1.52"/><circle cx="615.6" cy="110.9" r="1.52"/><circle cx="623.3" cy="110.9" r="1.52"/><circle cx="546.0" cy="103.4" r="1.52"/><circle cx="553.7" cy="103.4" r="1.52"/><circle cx="561.5" cy="103.4" r="1.52"/><circle cx="569.2" cy="103.4" r="1.52"/><circle cx="576.9" cy="103.4" r="1.52"/><circle cx="584.7" cy="103.4" r="1.52"/><circle cx="592.4" cy="103.4" r="1.52"/><circle cx="600.1" cy="103.4" r="1.52"/><circle cx="607.8" cy="103.4" r="1.52"/><circle cx="615.6" cy="103.4" r="1.52"/><circle cx="553.7" cy="95.8" r="1.52"/><circle cx="561.5" cy="95.8" r="1.52"/><circle cx="569.2" cy="95.8" r="1.52"/><circle cx="576.9" cy="95.8" r="1.52"/><circle cx="584.7" cy="95.8" r="1.52"/><circle cx="592.4" cy="95.8" r="1.52"/><circle cx="600.1" cy="95.8" r="1.52"/><circle cx="607.8" cy="95.8" r="1.52"/><circle cx="561.5" cy="88.3" r="1.52"/><circle cx="569.2" cy="88.3" r="1.52"/><circle cx="576.9" cy="88.3" r="1.52"/><circle cx="584.7" cy="88.3" r="1.52"/><circle cx="592.4" cy="88.3" r="1.52"/><circle cx="600.1" cy="88.3" r="1.52"/></g>
<path d="M557.1,83.9L565.9,92.7M557.1,92.7L565.9,83.9M526.1,114.0L534.9,122.8M526.1,122.8L534.9,114.0M526.1,151.7L534.9,160.5M526.1,160.5L534.9,151.7M526.1,159.2L534.9,168.0M526.1,168.0L534.9,159.2M526.1,174.2L534.9,183.0M526.1,183.0L534.9,174.2M526.1,204.4L534.9,213.2M526.1,213.2L534.9,204.4M526.1,264.6L534.9,273.4M526.1,273.4L534.9,264.6M526.1,294.7L534.9,303.5M526.1,303.5L534.9,294.7M603.4,151.7L612.2,160.5M603.4,160.5L612.2,151.7M665.3,151.7L674.1,160.5M665.3,160.5L674.1,151.7M626.6,189.3L635.4,198.1M626.6,198.1L635.4,189.3M557.1,249.5L565.9,258.3M557.1,258.3L565.9,249.5M580.3,249.5L589.1,258.3M580.3,258.3L589.1,249.5" stroke="#ff4545" stroke-opacity="0.85" stroke-width="1.3" fill="none" style="mix-blend-mode:multiply"/>
<rect x="534.4" y="106.6" width="8.4" height="8.4" fill="none" stroke="#ff2cff" stroke-width="1.3"/>
<rect x="526.6" y="129.2" width="8.4" height="8.4" fill="none" stroke="#ff2cff" stroke-width="1.3"/>
<rect x="549.8" y="151.8" width="8.4" height="8.4" fill="none" stroke="#ff2cff" stroke-width="1.3"/>
<rect x="580.8" y="159.3" width="8.4" height="8.4" fill="none" stroke="#ff2cff" stroke-width="1.3"/>
<rect x="634.9" y="159.3" width="8.4" height="8.4" fill="none" stroke="#ff2cff" stroke-width="1.3"/>
<rect x="549.8" y="189.4" width="8.4" height="8.4" fill="none" stroke="#ff2cff" stroke-width="1.3"/>
<rect x="588.5" y="189.4" width="8.4" height="8.4" fill="none" stroke="#ff2cff" stroke-width="1.3"/>
<rect x="526.6" y="234.6" width="8.4" height="8.4" fill="none" stroke="#ff2cff" stroke-width="1.3"/>
<rect x="526.6" y="249.6" width="8.4" height="8.4" fill="none" stroke="#ff2cff" stroke-width="1.3"/>
<rect x="483.2" y="11.5" width="273.0" height="394.2" fill="none" stroke="#5a5a5a" stroke-width="1.3"/>
<path d="M498.3,405.7v-4.2M498.3,11.5v4.2M556.8,405.7v-4.2M556.8,11.5v4.2M615.3,405.7v-4.2M615.3,11.5v4.2M673.8,405.7v-4.2M673.8,11.5v4.2M732.3,405.7v-4.2M732.3,11.5v4.2M483.2,387.3h4.2M756.2,387.3h-4.2M483.2,330.3h4.2M756.2,330.3h-4.2M483.2,273.2h4.2M756.2,273.2h-4.2M483.2,216.2h4.2M756.2,216.2h-4.2M483.2,159.2h4.2M756.2,159.2h-4.2M483.2,102.2h4.2M756.2,102.2h-4.2M483.2,45.1h4.2M756.2,45.1h-4.2" stroke="#4e4e4e" stroke-width="1.1" fill="none"/>
<rect x="585.5" y="291.7" width="161.8" height="104.5" fill="#fff" stroke="#4c4c4c" stroke-width="1.05"/>
<circle cx="614.2" cy="306.3" r="1.4" fill="none" stroke="#55ee55" stroke-width="1.2"/>
<circle cx="614.2" cy="331.3" r="1.4" fill="none" stroke="#5563f0" stroke-width="1.2"/>
<path d="M609.3,352.2L619.1,362M609.3,362L619.1,352.2" stroke="#ff4a4a" stroke-width="1.2" fill="none"/>
<rect x="609.5" y="377.1" width="9.4" height="9.4" fill="none" stroke="#ff2cff" stroke-width="1.3"/>
<g font-size="19.1" fill="#111" stroke="#111" stroke-width="0.25">
<text x="641.3" y="313.1">Enabled</text>
<text x="641.3" y="338.2">ROI</text>
<text x="641.3" y="363.4">Sampled</text>
<text x="641.3" y="388.6">Interpolated</text>
</g>
<g font-size="14.3" fill="#4c4c4c" text-anchor="middle">
<text x="497.0" y="427.8">0</text>
<text x="555.5" y="427.8">1</text>
<text x="614.0" y="427.8">2</text>
<text x="672.5" y="427.8">3</text>
<text x="731.0" y="427.8">4</text>
</g><g font-size="14.3" fill="#4c4c4c" text-anchor="end">
<text x="474.8" y="392.5">0</text>
<text x="474.8" y="335.5">1</text>
<text x="474.8" y="278.4">2</text>
<text x="474.8" y="221.4">3</text>
<text x="474.8" y="164.4">4</text>
<text x="474.8" y="107.4">5</text>
<text x="474.8" y="50.3">6</text>
</g>
<text x="618.5" y="467.3" font-size="31" letter-spacing="0.4" fill="#2c2c2c" text-anchor="middle">Vdark (V)</text>
<text transform="translate(454.3 208.7) rotate(-90)" font-size="31" letter-spacing="0.36" fill="#2c2c2c" text-anchor="middle">Vbright (V)</text>
<g class="s" font-size="31.6" fill="#111" stroke="#111" stroke-width="0.5">
<text x="421.8" y="427.5">(a)</text>
<text x="789" y="427.5">(b)</text>
</g>
</g>
</svg></body></html>
